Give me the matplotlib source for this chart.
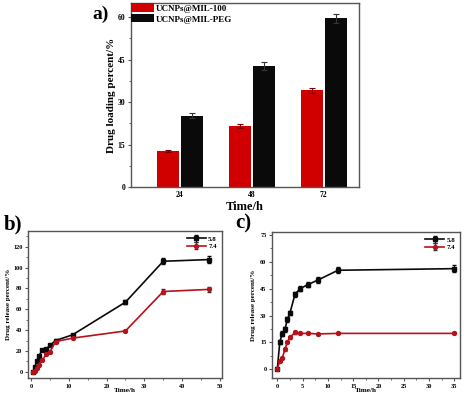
import matplotlib
matplotlib.use("Agg")
import matplotlib.pyplot as plt
from matplotlib.ticker import MultipleLocator, AutoMinorLocator
import numpy as np

plt.rcParams['font.family'] = ['Liberation Serif', 'DejaVu Serif']
plt.rcParams['font.weight'] = 'bold'

# Panel a data
times_a = ["24", "48", "72"]
mil100 = [12.8, 21.5, 34.1]
mil100_err = [0.4, 0.7, 0.9]
milpeg = [25.2, 42.7, 59.6]
milpeg_err = [0.9, 1.3, 1.6]

# Panel b data
tb = [0.5, 1, 1.5, 2, 3, 4, 5, 6.5, 11, 25, 35, 47]
b58 = [0, 4.7, 10, 15, 20.6, 21.8, 25.3, 30, 35.5, 66.8, 106, 107.6]
b58_err = [0.5, 0.8, 0.8, 1, 1, 1, 1, 1, 1.2, 2, 3, 3]
b74 = [0, 0.8, 3.8, 7, 11, 16.8, 19, 29, 32.3, 39.2, 77, 79]
b74_err = [0.5, 0.5, 0.8, 0.8, 1, 1, 1, 1, 1, 1.2, 2.5, 2.5]

# Panel c data
tc = [0, 0.5, 1, 1.5, 2, 2.5, 3.5, 4.5, 6, 8, 12, 35]
c58 = [0, 15.3, 19.9, 22.2, 27.8, 31.4, 41.9, 45, 47.2, 49.8, 55.3, 56.2]
c58_err = [0.5, 1, 1.2, 1.2, 1.3, 1.3, 1.5, 1.5, 1.5, 1.5, 1.8, 1.8]
c74 = [0, 4.8, 6.4, 11, 15.3, 17.8, 20.6, 20, 20, 19.7, 20, 20]
c74_err = [0.3, 0.5, 0.6, 0.6, 0.7, 0.7, 0.7, 0.6, 0.6, 0.6, 0.6, 0.6]

RED = '#d00000'
BLK = '#0a0a0a'
DRED = '#b5121b'
SPINE = '#555555'

fig = plt.figure(figsize=(4.74, 3.98), dpi=100)

def style(ax, fs):
    for s in ax.spines.values():
        s.set_color(SPINE)
        s.set_linewidth(1.0)
    ax.tick_params(which='both', direction='out', colors=SPINE, labelcolor='black',
                   labelsize=fs, pad=1.5)
    ax.tick_params(which='major', length=2.5)
    ax.tick_params(which='minor', length=1.5)
    for lab in ax.get_xticklabels() + ax.get_yticklabels():
        lab.set_fontweight('bold')

# ---- Panel a
axa = fig.add_axes([0.2764, 0.5302, 0.481, 0.4623])
x = np.arange(len(times_a))
w = 0.31
axa.bar(x - 0.167, mil100, w, color=RED, yerr=mil100_err, ecolor='#7a0000',
        capsize=2, error_kw=dict(elinewidth=0.8, capthick=0.8), label='UCNPs@MIL-100')
axa.bar(x + 0.167, milpeg, w, color=BLK, yerr=milpeg_err, ecolor='#333333',
        capsize=2, error_kw=dict(elinewidth=0.8, capthick=0.8), label='UCNPs@MIL-PEG')
axa.set_xlim(-0.68, 2.49)
axa.set_ylim(0, 65)
axa.set_xticks(x)
axa.set_xticklabels(times_a)
axa.yaxis.set_major_locator(MultipleLocator(15))
axa.yaxis.set_minor_locator(AutoMinorLocator(2))
style(axa, 5.5)
axa.tick_params(axis='x', length=0, pad=3)
axa.set_ylabel('Drug loading percent/%', fontsize=8, fontweight='bold', labelpad=1)
axa.set_xlabel('Time/h', fontsize=9, fontweight='bold', labelpad=1)
axa.legend(loc='upper left', frameon=False,
           handlelength=2.5, handleheight=1.0,
           borderaxespad=0.0, borderpad=0.05, labelspacing=0.2, handletextpad=0.25,
           prop={'weight': 'bold', 'size': 6.5})
fig.text(101 / 474, 1 - 14 / 398, 'a)', fontsize=14, fontweight='bold', ha='center', va='center')

def release_panel(ax, t, y58, e58, y74, e74):
    ax.errorbar(t, y58, yerr=e58, color=BLK, marker='s', ms=2.8, lw=1.2,
                capsize=1.3, elinewidth=0.7, label='5.8')
    ax.errorbar(t, y74, yerr=e74, color=DRED, marker='o', ms=2.8, lw=1.2,
                capsize=1.3, elinewidth=0.7, ecolor='#333333', label='7.4')
    ax.legend(loc='upper right', frameon=False, prop={'weight': 'bold', 'size': 5},
              handlelength=2.8, borderaxespad=0.3, labelspacing=0.2, handletextpad=0.3)

# ---- Panel b
axb = fig.add_axes([0.059, 0.05, 0.409, 0.3696])
release_panel(axb, tb, b58, b58_err, b74, b74_err)
axb.set_xlim(-0.8, 50.5)
axb.set_ylim(-6, 135)
axb.xaxis.set_major_locator(MultipleLocator(10))
axb.xaxis.set_minor_locator(AutoMinorLocator(2))
axb.yaxis.set_major_locator(MultipleLocator(20))
axb.yaxis.set_minor_locator(AutoMinorLocator(2))
style(axb, 4.5)
axb.set_ylabel('Drug release percent/%', fontsize=5, fontweight='bold', labelpad=1.5)
axb.set_xlabel('Time/h', fontsize=5.2, fontweight='bold', labelpad=-0.3)
fig.text(13 / 474, 1 - 224 / 398, 'b)', fontsize=15, fontweight='bold', ha='center', va='center')

# ---- Panel c
axc = fig.add_axes([0.5738, 0.05, 0.3966, 0.3671])
release_panel(axc, tc, c58, c58_err, c74, c74_err)
axc.set_xlim(-1.05, 36.1)
axc.set_ylim(-5, 76.7)
axc.xaxis.set_major_locator(MultipleLocator(5))
axc.xaxis.set_minor_locator(AutoMinorLocator(2))
axc.yaxis.set_major_locator(MultipleLocator(15))
axc.yaxis.set_minor_locator(AutoMinorLocator(2))
style(axc, 4.5)
axc.set_ylabel('Drug release percent/%', fontsize=5, fontweight='bold', labelpad=3)
axc.set_xlabel('Time/h', fontsize=5.2, fontweight='bold', labelpad=-0.3)
fig.text(243 / 474, 1 - 223 / 398, 'c)', fontsize=15, fontweight='bold', ha='center', va='center')

fig.savefig('out.png', dpi=100)
